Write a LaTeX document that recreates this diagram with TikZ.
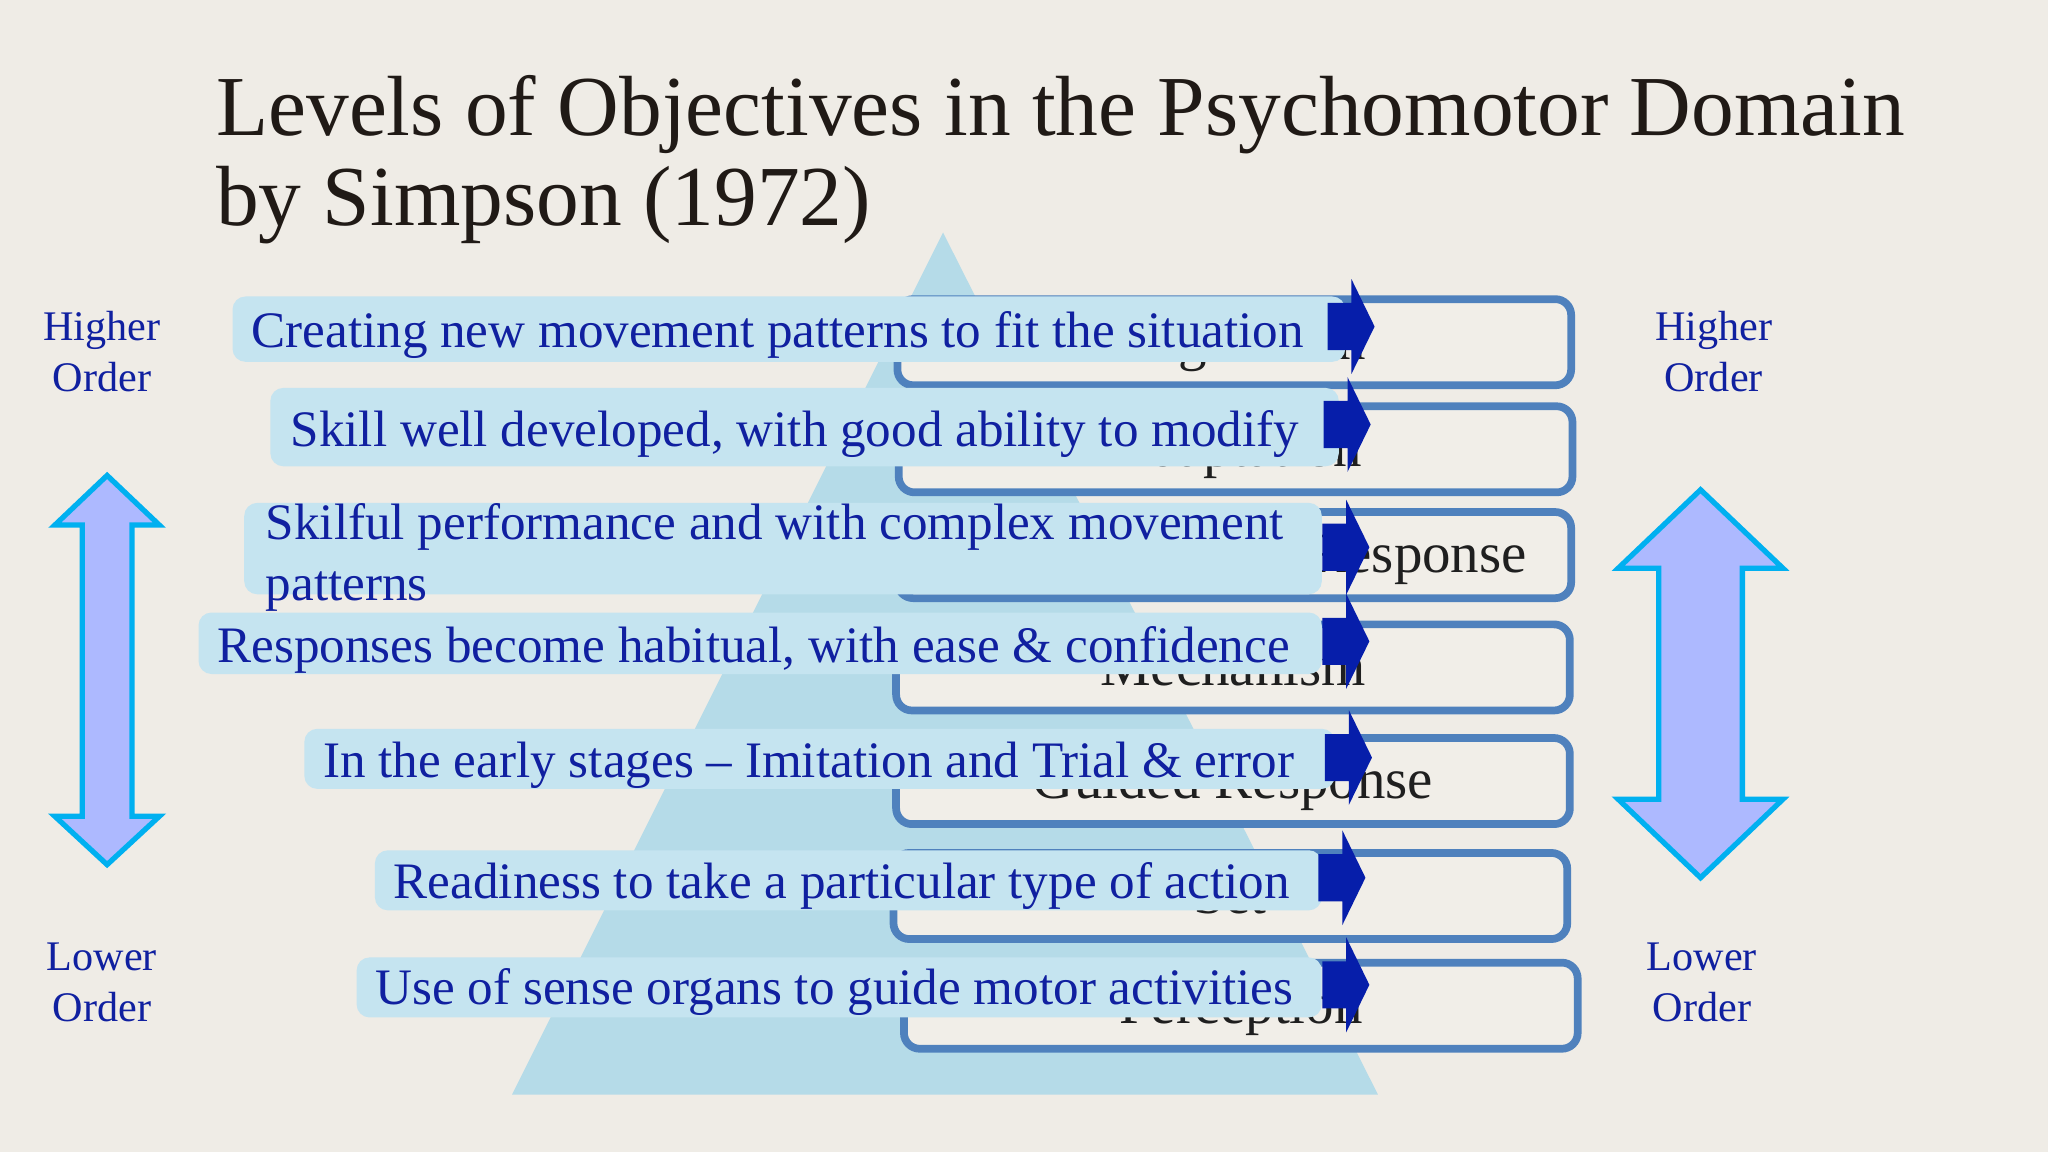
\documentclass[tikz,border=0pt]{standalone}
\usepackage{fontspec}
\setmainfont{Liberation Serif}
\usepackage{tikz}
\usetikzlibrary{shapes.arrows}
\definecolor{slidebg}{RGB}{239,236,230}
\definecolor{pyramidblue}{RGB}{181,219,232}
\definecolor{calloutblue}{RGB}{197,228,240}
\definecolor{levelframe}{RGB}{79,129,189}
\definecolor{levelfill}{RGB}{241,238,232}
\definecolor{pointerblue}{RGB}{6,30,170}
\definecolor{textblue}{RGB}{16,32,160}
\definecolor{orderfill}{RGB}{173,185,255}
\definecolor{orderline}{RGB}{0,176,240}
\definecolor{titleink}{RGB}{32,26,22}

\begin{document}
\begin{tikzpicture}[x=0.01306cm, y=-0.01306cm,
  levelbox/.style={draw=levelframe, line width=2.2pt, fill=levelfill, rounded corners=4.5pt,
    minimum width=191.7pt, minimum height=24.5pt, inner sep=0pt,
    text height=11.5pt, text depth=1.5pt, text=black!88, font=\fontsize{16.2}{19}\selectfont},
  callout/.style={fill=calloutblue, rounded corners=3.7pt, inner sep=0pt},
  calltext/.style={inner sep=0pt, anchor=base west, text=textblue, font=\fontsize{14.55}{17.4}\selectfont},
  pointer/.style={single arrow, fill=pointerblue, inner xsep=0pt, inner ysep=6.5pt, minimum height=13.4pt,
    single arrow head extend=6.8pt, single arrow tip angle=128},
  order/.style={fill=orderfill, draw=orderline, line width=1.5pt, line join=miter},
  orderlabel/.style={align=center, inner sep=0pt, text=textblue, font=\fontsize{12}{14.5}\selectfont}]
\fill[slidebg] (0,0) rectangle (1568,882);
\useasboundingbox (0,0) rectangle (1568,882);

% Title
\node[anchor=base west, inner sep=0pt, text=titleink, font=\fontsize{24.3}{26}\selectfont] (title1) at (165,103.5) {Levels of Objectives in the Psychomotor Domain};
\node[anchor=base west, inner sep=0pt, text=titleink, font=\fontsize{24.3}{26}\selectfont] (title2) at (165,172.5) {by Simpson (1972)};

% Pyramid with the seven levels
\fill[pyramidblue] (722,178) -- (1055,838) -- (392,838) -- cycle;
\node[levelbox] (origination) at (945,262) {Origination};
\node[levelbox] (adaptation) at (946,344) {Adaptation};
\node[levelbox] (complex) at (945,425) {Complex Overt Response};
\node[levelbox] (mechanism) at (944,511) {Mechanism};
\node[levelbox] (guided) at (944,598) {Guided Response};
\node[levelbox] (set) at (942,686) {Set};
\node[levelbox] (perception) at (950,770) {Perception};

% Descriptions
\node[callout, minimum width=316.6pt, minimum height=18.6pt] (c1) at (604,252) {};
\node[callout, minimum width=304pt, minimum height=22.3pt] (c2) at (616,327) {};
\node[callout, minimum width=306.6pt, minimum height=26pt] (c3) at (599.5,420) {};
\node[callout, minimum width=319.6pt, minimum height=17.5pt] (c4) at (582,492.5) {};
\node[callout, minimum width=293.2pt, minimum height=17.1pt] (c5) at (627.5,581) {};
\node[callout, minimum width=269.4pt, minimum height=17.1pt] (c6) at (649.5,674) {};
\node[callout, minimum width=274.6pt, minimum height=17.1pt] (c7) at (642.5,756) {};
\node[calltext] (t1) at (192,266) {Creating new movement patterns to fit the situation};
\node[calltext] (t2) at (222,342) {Skill well developed, with good ability to modify};
\node[calltext, align=left] (t3) at (203,460) {Skilful performance and with complex movement\\patterns};
\node[calltext] (t4) at (166,507) {Responses become habitual, with ease \& confidence};
\node[calltext] (t5) at (247,595) {In the early stages -- Imitation and Trial \& error};
\node[calltext] (t6) at (301,688) {Readiness to take a particular type of action};
\node[calltext] (t7) at (287,769) {Use of sense organs to guide motor activities};

% Pointers into the levels
\node[pointer] (a1) at (1030,250) {};
\node[pointer] (a2) at (1027,325) {};
\node[pointer] (a3) at (1026,419) {};
\node[pointer] (a4) at (1026,491) {};
\node[pointer] (a5) at (1028,580) {};
\node[pointer] (a6) at (1023,672) {};
\node[pointer] (a7) at (1026,754) {};

% Order arrows
\draw[order] (82,364) -- (122,402) -- (101,402) -- (101,625) -- (122,625) -- (82,662) -- (42,625) -- (63,625) -- (63,402) -- (42,402) -- cycle;
\draw[order] (1302,375) -- (1365,435) -- (1334,435) -- (1334,612) -- (1365,612) -- (1302,672) -- (1239,612) -- (1270,612) -- (1270,435) -- (1239,435) -- cycle;
\node[orderlabel] (highleft) at (78,269.5) {Higher\\Order};
\node[orderlabel] (lowleft) at (78,752.5) {Lower\\Order};
\node[orderlabel] (highright) at (1312,269.5) {Higher\\Order};
\node[orderlabel] (lowright) at (1303,752.5) {Lower\\Order};
\end{tikzpicture}
\end{document}
